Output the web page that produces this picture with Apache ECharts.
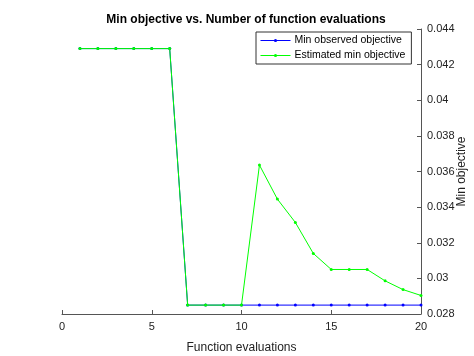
<!DOCTYPE html>
<html>
<head>
<meta charset="utf-8">
<script src="https://cdn.jsdelivr.net/npm/echarts@6/dist/echarts.min.js"></script>
<style>
  html, body { margin: 0; padding: 0; background: #fff; }
  #chart { width: 474px; height: 356px; }
</style>
</head>
<body>
<div id="chart"></div>
<script>
// evaluations 1..20
const evals = [1, 2, 3, 4, 5, 6, 7, 8, 9, 10, 11, 12, 13, 14, 15, 16, 17, 18, 19, 20]
const minObserved = [0.0429, 0.0429, 0.0429, 0.0429, 0.0429, 0.0429, 0.0285, 0.0285, 0.0285, 0.0285,
  0.0285, 0.0285, 0.0285, 0.0285, 0.0285, 0.0285, 0.0285, 0.0285, 0.0285, 0.0285]
const estimatedMin = [0.0429, 0.0429, 0.0429, 0.0429, 0.0429, 0.0429, 0.0285, 0.0285, 0.0285, 0.0285,
  0.03636, 0.03445, 0.03314, 0.0314, 0.0305, 0.0305, 0.0305, 0.02986, 0.02937, 0.02904]

const font = 'Liberation Sans'
const axisColor = '#555'

const chart = echarts.init(document.getElementById('chart'))
chart.setOption({
  animation: false,
  title: {
    text: 'Min objective vs. Number of function evaluations',
    left: 241,
    textAlign: 'center',
    top: 9,
    textStyle: { fontFamily: font, fontSize: 12, fontWeight: 'bold', color: '#000' }
  },
  legend: {
    left: 256,
    top: 32,
    orient: 'vertical',
    itemWidth: 30,
    itemHeight: 4,
    itemGap: 4,
    padding: [3, 6, 3, 4],
    borderColor: '#333',
    borderWidth: 1,
    borderRadius: 0,
    lineStyle: { width: 1 },
    textStyle: { fontFamily: font, fontSize: 10.5, color: '#000', padding: [0, 0, 0, -1] },
    data: ['Min observed objective', 'Estimated min objective']
  },
  grid: { left: 62, right: 53, top: 29, bottom: 42, outerBoundsMode: 'none' },
  xAxis: {
    type: 'value',
    min: 0,
    max: 20,
    interval: 5,
    name: 'Function evaluations',
    nameLocation: 'middle',
    nameGap: 28,
    nameMoveOverlap: false,
    nameTextStyle: { fontFamily: font, fontSize: 12, color: '#222' },
    axisLine: { onZero: false, lineStyle: { color: axisColor } },
    axisTick: { inside: true, length: 4, lineStyle: { color: axisColor } },
    axisLabel: { fontFamily: font, fontSize: 11, color: '#222', margin: 7 },
    splitLine: { show: false }
  },
  yAxis: {
    type: 'value',
    position: 'right',
    min: 0.028,
    max: 0.044,
    interval: 0.002,
    name: 'Min objective',
    nameLocation: 'middle',
    nameGap: 35,
    nameMoveOverlap: false,
    nameRotate: 90,
    nameTextStyle: { fontFamily: font, fontSize: 12, color: '#222' },
    axisLine: { show: true, onZero: false, lineStyle: { color: axisColor } },
    axisTick: { show: true, inside: true, length: 4, lineStyle: { color: axisColor } },
    axisLabel: { fontFamily: font, fontSize: 11, color: '#222', margin: 6 },
    splitLine: { show: false }
  },
  series: [
    {
      name: 'Min observed objective',
      type: 'line',
      data: evals.map((x, i) => [x, minObserved[i]]),
      symbol: 'circle',
      symbolSize: 3,
      lineStyle: { color: '#0000ff', width: 1 },
      itemStyle: { color: '#0000ff' },
      z: 2
    },
    {
      name: 'Estimated min objective',
      type: 'line',
      data: evals.map((x, i) => [x, estimatedMin[i]]),
      symbol: 'circle',
      symbolSize: 3,
      lineStyle: { color: '#00ff00', width: 1 },
      itemStyle: { color: '#00ff00' },
      z: 3
    }
  ]
})
</script>
</body>
</html>
